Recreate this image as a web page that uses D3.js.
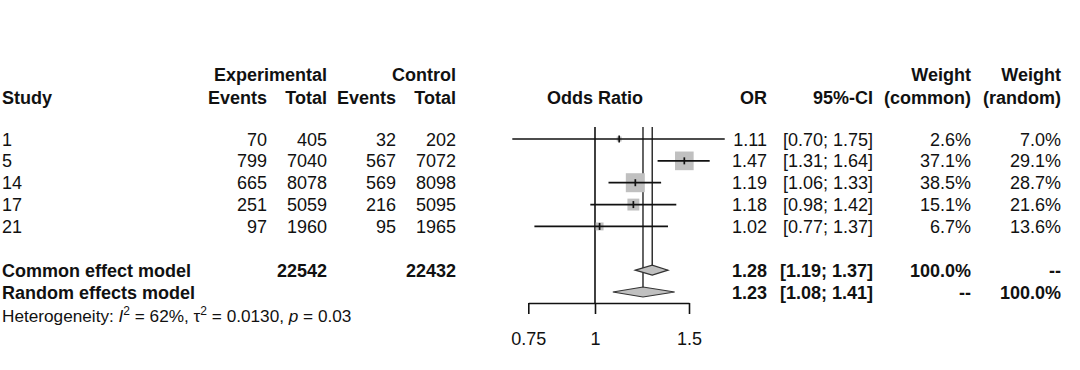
<!DOCTYPE html>
<html>
<head>
<meta charset="utf-8">
<script src="https://cdn.jsdelivr.net/npm/d3@7"></script>
<style>
  body { margin: 0; background: #fff; }
  svg text { font-family: "Liberation Sans", Arial, Helvetica, sans-serif; font-size: 18px; fill: #111; }
  .b { font-weight: bold; }
</style>
</head>
<body>
<script>
// study data
var studies = ["1", "5", "14", "17", "21"];
var eventsE = [70, 799, 665, 251, 97];
var totalE = [405, 7040, 8078, 5059, 1960];
var eventsC = [32, 567, 569, 216, 95];
var totalC = [202, 7072, 8098, 5095, 1965];
var orVals = [1.11, 1.47, 1.19, 1.18, 1.02];
var ciLow = [0.70, 1.31, 1.06, 0.98, 0.77];
var ciHigh = [1.75, 1.64, 1.33, 1.42, 1.37];
var wCommon = [2.6, 37.1, 38.5, 15.1, 6.7];
var wRandom = [7.0, 29.1, 28.7, 21.6, 13.6];

// pooled models
var models = ["Common effect model", "Random effects model"];
var poolOR = [1.28, 1.23];
var poolLow = [1.19, 1.08];
var poolHigh = [1.37, 1.41];
var poolTotalE = ["22542", ""];
var poolTotalC = ["22432", ""];
var poolWCommon = ["100.0%", "--"];
var poolWRandom = ["--", "100.0%"];

var axisTicks = [0.75, 1, 1.5];
var tickLabels = ["0.75", "1", "1.5"];

var width = 1080, height = 370;

var svg = d3.select("body").append("svg")
    .attr("width", width)
    .attr("height", height);

var x = d3.scaleLog().domain([0.75, 1.5]).range([528.3, 689]);
var y = d3.scaleLinear().domain([0, 7]).range([139, 292]);
var size = d3.scaleSqrt().domain([0, 38.5]).range([0, 19]);
var f2 = d3.format(".2f");
var f1 = function(v){ return d3.format(".1f")(v) + "%"; };

var col = {study: 2, evE: 267, totE: 327, evC: 396, totC: 456, or: 767, ci: 873, wc: 971, wr: 1061};
var base = 6.5;   // baseline offset from row centre

function txt(xp, yp, s, anchor, bold){
    return svg.append("text")
        .attr("x", xp).attr("y", yp)
        .attr("text-anchor", anchor)
        .attr("class", bold ? "b" : null)
        .text(s);
}

// headers
var h1 = 80.5, h2 = 103.5;
txt(col.totE, h1, "Experimental", "end", true);
txt(col.totC, h1, "Control", "end", true);
txt(col.wc, h1, "Weight", "end", true);
txt(col.wr, h1, "Weight", "end", true);
txt(col.study, h2, "Study", "start", true);
txt(col.evE, h2, "Events", "end", true);
txt(col.totE, h2, "Total", "end", true);
txt(col.evC, h2, "Events", "end", true);
txt(col.totC, h2, "Total", "end", true);
txt(x(1), h2, "Odds Ratio", "middle", true);
txt(col.or, h2, "OR", "end", true);
txt(col.ci, h2, "95%-CI", "end", true);
txt(col.wc, h2, "(common)", "end", true);
txt(col.wr, h2, "(random)", "end", true);

// study rows
studies.forEach(function(s, i){
    var yy = y(i) + base;
    txt(col.study, yy, s, "start");
    txt(col.evE, yy, eventsE[i], "end");
    txt(col.totE, yy, totalE[i], "end");
    txt(col.evC, yy, eventsC[i], "end");
    txt(col.totC, yy, totalC[i], "end");
    txt(col.or, yy, f2(orVals[i]), "end");
    txt(col.ci, yy, "[" + f2(ciLow[i]) + "; " + f2(ciHigh[i]) + "]", "end");
    txt(col.wc, yy, f1(wCommon[i]), "end");
    txt(col.wr, yy, f1(wRandom[i]), "end");
});

// pooled rows
models.forEach(function(m, k){
    var yy = y(6 + k) + base;
    txt(col.study, yy, m, "start", true);
    txt(col.totE, yy, poolTotalE[k], "end", true);
    txt(col.totC, yy, poolTotalC[k], "end", true);
    txt(col.or, yy, f2(poolOR[k]), "end", true);
    txt(col.ci, yy, "[" + f2(poolLow[k]) + "; " + f2(poolHigh[k]) + "]", "end", true);
    txt(col.wc, yy, poolWCommon[k], "end", true);
    txt(col.wr, yy, poolWRandom[k], "end", true);
});

// heterogeneity line
var het = svg.append("text").attr("x", col.study).attr("y", 321.5).style("font-size", "17.2px");
het.append("tspan").text("Heterogeneity: ");
het.append("tspan").attr("font-style", "italic").text("I");
het.append("tspan").attr("dy", -7).style("font-size", "12px").text("2");
het.append("tspan").attr("dy", 7).text(" = 62%, \u03c4");
het.append("tspan").attr("dy", -7).style("font-size", "12px").text("2");
het.append("tspan").attr("dy", 7).text(" = 0.0130, ");
het.append("tspan").attr("font-style", "italic").text("p");
het.append("tspan").text(" = 0.03");

// reference lines
var topY = 127, axisY = 303;
svg.append("line")
    .attr("x1", x(1)).attr("x2", x(1))
    .attr("y1", topY).attr("y2", axisY)
    .attr("stroke", "#111").attr("stroke-width", 1.6);
var dh = 5;
svg.append("line")
    .attr("x1", x(poolOR[0])).attr("x2", x(poolOR[0]))
    .attr("y1", topY).attr("y2", y(6) - dh)
    .attr("stroke", "#222").attr("stroke-width", 1.4);
svg.append("line")
    .attr("x1", x(poolOR[1])).attr("x2", x(poolOR[1]))
    .attr("y1", topY).attr("y2", y(7) - dh)
    .attr("stroke", "#222").attr("stroke-width", 1.4);

// squares
svg.selectAll("rect.sq")
    .data(studies)
    .enter().append("rect")
    .attr("class", "sq")
    .attr("x", function(d, i){ return x(orVals[i]) - size(wCommon[i]) / 2; })
    .attr("y", function(d, i){ return y(i) - size(wCommon[i]) / 2; })
    .attr("width", function(d, i){ return size(wCommon[i]); })
    .attr("height", function(d, i){ return size(wCommon[i]); })
    .attr("fill", "#c0c0c0");

// CI lines
svg.selectAll("line.ci")
    .data(studies)
    .enter().append("line")
    .attr("class", "ci")
    .attr("x1", function(d, i){ return x(ciLow[i]); })
    .attr("x2", function(d, i){ return x(ciHigh[i]); })
    .attr("y1", function(d, i){ return y(i); })
    .attr("y2", function(d, i){ return y(i); })
    .attr("stroke", "#111").attr("stroke-width", 1.7);

// point marks
svg.selectAll("line.pt")
    .data(studies)
    .enter().append("line")
    .attr("class", "pt")
    .attr("x1", function(d, i){ return x(orVals[i]); })
    .attr("x2", function(d, i){ return x(orVals[i]); })
    .attr("y1", function(d, i){ return y(i) - 3.5; })
    .attr("y2", function(d, i){ return y(i) + 3.5; })
    .attr("stroke", "#111").attr("stroke-width", 1.7);

// diamonds
svg.selectAll("path.dia")
    .data(models)
    .enter().append("path")
    .attr("class", "dia")
    .attr("d", function(d, k){
        var yc = y(6 + k);
        return "M" + x(poolLow[k]) + "," + yc +
            "L" + x(poolOR[k]) + "," + (yc - dh) +
            "L" + x(poolHigh[k]) + "," + yc +
            "L" + x(poolOR[k]) + "," + (yc + dh) + "Z";
    })
    .attr("fill", "#c0c0c0")
    .attr("stroke", "#333").attr("stroke-width", 1.2);

// x axis
var axis = svg.append("g")
    .attr("transform", "translate(0," + axisY + ")")
    .call(d3.axisBottom(x).tickValues(axisTicks)
        .tickFormat(function(d, i){ return tickLabels[i]; })
        .tickSize(11).tickPadding(18).tickSizeOuter(0));
axis.select(".domain").attr("stroke", "#111").attr("stroke-width", 1.6);
axis.selectAll(".tick line").attr("stroke", "#111").attr("stroke-width", 1.6);
axis.selectAll(".tick text")
    .attr("fill", "#111")
    .style("font-size", "18px")
    .style("font-family", "'Liberation Sans', Arial, sans-serif");
</script>
</body>
</html>
